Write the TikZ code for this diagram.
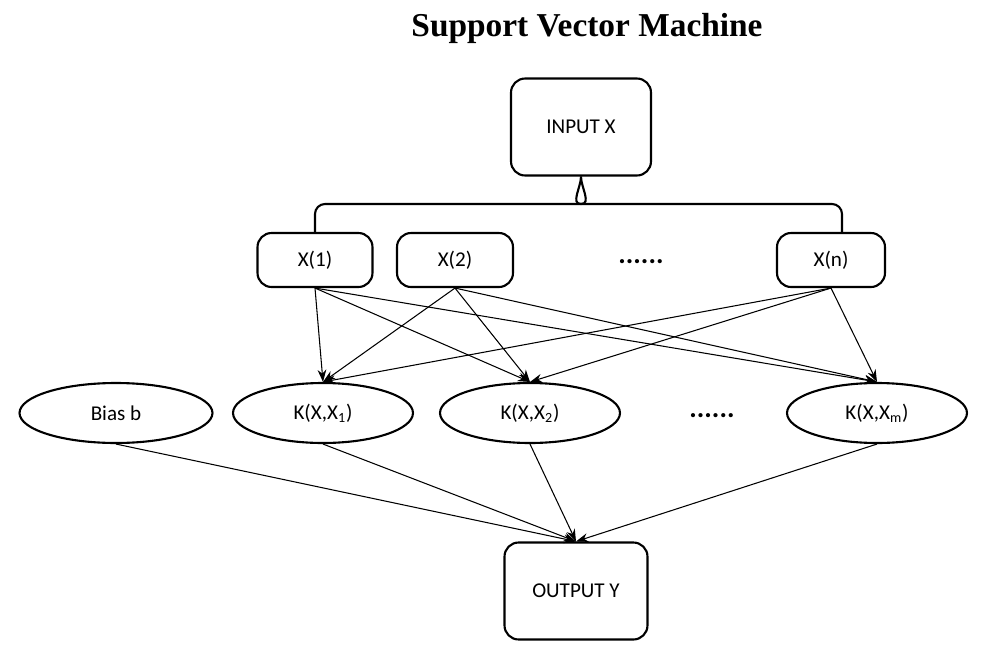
\documentclass[tikz,border=0pt]{standalone}
\usepackage{fontspec}
\setmainfont{Carlito}
\newfontfamily\titlefont{Liberation Serif}
\usetikzlibrary{shapes.geometric,arrows.meta}
\begin{document}
\begin{tikzpicture}[x=0.02cm,y=-0.02cm,
  box/.style={draw,line width=1.2pt,rounded corners=8pt,font=\fontsize{12}{14}\selectfont,inner sep=0pt},
  ell/.style={draw,ellipse,line width=1.2pt,font=\fontsize{12}{14}\selectfont,inner sep=0pt,minimum width=3.6cm,minimum height=1.2cm},
  arr/.style={-{Stealth[length=7pt,width=5pt]},line width=0.6pt}]
\useasboundingbox (0,0) rectangle (995,653);
\node[font=\titlefont\bfseries\fontsize{19}{22}\selectfont] (title) at (587,28) {Support Vector Machine};
\node[box,minimum width=2.8cm,minimum height=1.94cm] (in) at (581,127) {INPUT X};
\node[box,minimum width=2.3cm,minimum height=1.08cm] (x1) at (315,260) {X(1)};
\node[box,minimum width=2.32cm,minimum height=1.08cm] (x2) at (455,260) {X(2)};
\node[box,minimum width=2.16cm,minimum height=1.08cm] (xn) at (831,260) {X(n)};
\node[font=\bfseries\fontsize{16}{18}\selectfont] (d1) at (641,262) {......};
\node[ell,minimum width=3.86cm] (b) at (116,413) {Bias b};
\node[ell] (k1) at (323,413) {K(X,X\textsubscript{1})};
\node[ell] (k2) at (530,413) {K(X,X\textsubscript{2})};
\node[ell] (km) at (877,413) {K(X,X\textsubscript{m})};
\node[font=\bfseries\fontsize{16}{18}\selectfont] (d2) at (712,416) {......};
\node[box,minimum width=2.86cm,minimum height=1.94cm] (out) at (576,591) {OUTPUT Y};
\coordinate (ap) at (in.south);
\draw[line width=1.2pt] (ap) to[out=-90,in=0] (ap|-0,204) -- (325,204) to[out=180,in=90] (315,214) -- (x1.north);
\draw[line width=1.2pt] (ap) to[out=-90,in=180] (ap|-0,204) -- (832,204) to[out=0,in=90] (842,214) -- (842,233);
\foreach \s in {x1,x2,xn}{
  \draw[arr] (\s.south) -- (k1.north);
  \draw[arr] (\s.south) -- (k2.north);
  \draw[arr] (\s.south) -- (km.north);}
\foreach \s in {b,k1,k2,km}
  \draw[arr] (\s.south) -- (out.north);
\end{tikzpicture}
\end{document}
